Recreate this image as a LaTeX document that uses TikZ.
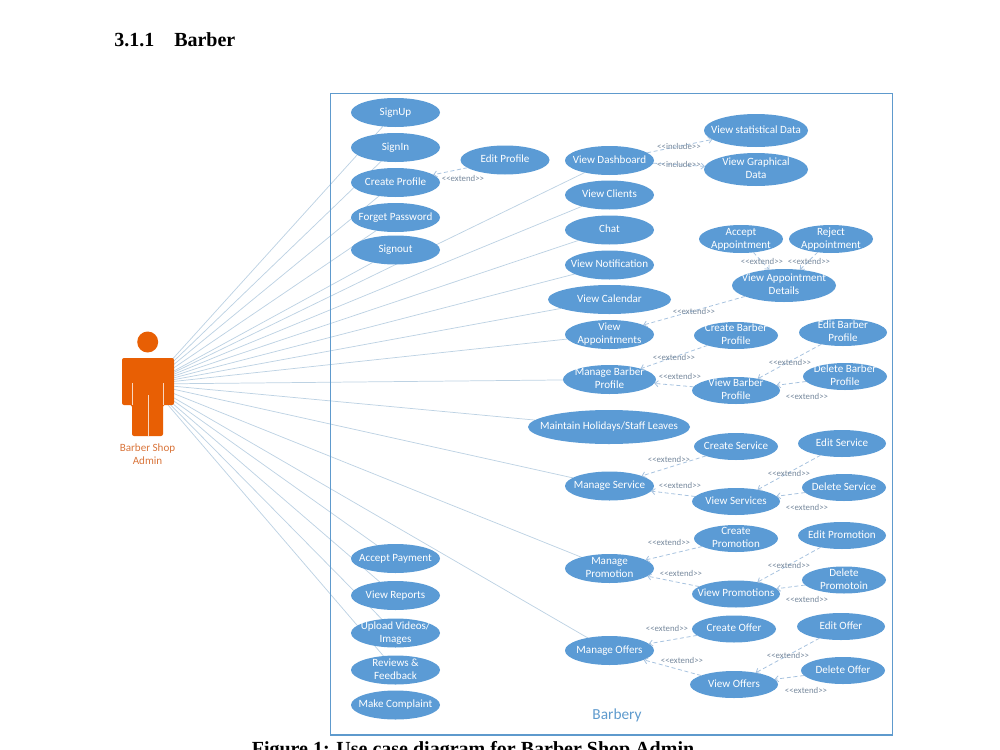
\documentclass[tikz,border=0pt]{standalone}
\usepackage{fontspec}
\setmainfont{Carlito}
\newfontfamily\headfont{Liberation Serif}
\usetikzlibrary{shapes.geometric,backgrounds,arrows.meta}
\definecolor{ucblue}{HTML}{5B9BD5}
\definecolor{framecol}{HTML}{5E9ACD}
\definecolor{fancol}{HTML}{BDD2E3}
\definecolor{dashcol}{HTML}{A8C3DF}
\definecolor{labcol}{HTML}{76889C}
\definecolor{actorcol}{HTML}{E85F04}
\definecolor{actortext}{HTML}{D9753B}
\newcommand\ut[1]{\raisebox{-3.9pt}{\makebox[0pt]{\smash{\begin{tabular}[c]{@{}c@{}}#1\end{tabular}}}}}
\newcommand\extl{<{}<extend>{}>}
\newcommand\incl{<{}<include>{}>}
\tikzset{
  uc/.style 2 args={ellipse,fill=ucblue,text=white,inner sep=0pt,outer sep=0pt,
    minimum width=#1*0.75pt,minimum height=#2*0.75pt,
    font=\fontsize{8.3}{9.75}\selectfont},
  fan/.style={draw=fancol,line width=0.55pt},
  dep/.style={draw=dashcol,line width=0.6pt,dash pattern=on 3pt off 2pt,-{Straight Barb[length=2.5pt,width=4.5pt]}},
  deplabel/.style={text=labcol,inner sep=0pt,font=\fontsize{6.6}{7}\selectfont},
  seam/.style={draw=white!75!actorcol,line width=0.5pt}
}
\begin{document}
\begin{tikzpicture}[x=0.75pt,y=-0.75pt]
\useasboundingbox (0,0) rectangle (1000,750);
% heading and caption
\node[anchor=base west,inner sep=0pt,font=\headfont\bfseries\fontsize{15}{17}\selectfont] (heading) at (114,46.5) {3.1.1\hspace{15pt}Barber};
\node[anchor=base,inner sep=0pt,font=\headfont\bfseries\fontsize{15}{17}\selectfont] (caption) at (473,755) {Figure 1: Use case diagram for Barber Shop Admin};
% system boundary
\draw[framecol,line width=1.1pt] (330.5,93.5) rectangle (892.5,735);
\node[text=framecol,inner sep=0pt,font=\fontsize{11.5}{13}\selectfont] (sysname) at (617,715) {Barbery};
% left column
\node[uc={89}{29}] (signup) at (395.5,112.5) {\ut{SignUp}};
\node[uc={89}{29}] (signin) at (395.5,147.5) {\ut{SignIn}};
\node[uc={89}{29}] (createprofile) at (395.5,182.5) {\ut{Create Profile}};
\node[uc={89}{29}] (forget) at (395.5,217.5) {\ut{Forget Password}};
\node[uc={89}{29}] (signout) at (395.5,250) {\ut{Signout}};
\node[uc={89}{29}] (editprofile) at (505,160) {\ut{Edit Profile}};
\node[uc={89}{29}] (payment) at (395.5,558.5) {\ut{Accept Payment}};
\node[uc={89}{29}] (reports) at (395.5,595.5) {\ut{View Reports}};
\node[uc={89}{29}] (upload) at (395.5,633) {\ut{Upload Videos/\\Images}};
\node[uc={89}{29}] (reviews) at (395.5,670) {\ut{Reviews \&\\Feedback}};
\node[uc={89}{29}] (complaint) at (395.5,705) {\ut{Make Complaint}};
% middle column
\node[uc={89}{29}] (dashboard) at (609.5,160.5) {\ut{View Dashboard}};
\node[uc={89}{29}] (clients) at (609.5,195) {\ut{View Clients}};
\node[uc={89}{29}] (chat) at (609.5,230) {\ut{Chat}};
\node[uc={89}{29}] (notification) at (609.5,265) {\ut{View Notification}};
\node[uc={123}{29}] (calendar) at (609.5,299.5) {\ut{View Calendar}};
\node[uc={89}{29}] (appointments) at (609.5,334.5) {\ut{View\\Appointments}};
\node[uc={93}{29}] (managebarber) at (609.5,379.5) {\ut{Manage Barber\\Profile}};
\node[uc={162}{34}] (holidays) at (609,427) {\ut{Maintain Holidays/Staff Leaves}};
\node[uc={89}{29}] (manageservice) at (609.5,486) {\ut{Manage Service}};
\node[uc={89}{29}] (managepromo) at (609.5,568.5) {\ut{Manage\\Promotion}};
\node[uc={89}{29}] (manageoffers) at (609.5,650.5) {\ut{Manage Offers}};
% dashboard children
\node[uc={104}{33}] (statdata) at (756,130.5) {\ut{View statistical Data}};
\node[uc={104}{33}] (graphdata) at (756,169.5) {\ut{View Graphical\\Data}};
% appointments
\node[uc={84}{28}] (accept) at (741,239) {\ut{Accept\\Appointment}};
\node[uc={84}{28}] (reject) at (831,239) {\ut{Reject\\Appointment}};
\node[uc={104}{33}] (details) at (784,285.5) {\ut{View Appointment\\Details}};
% barber profile
\node[uc={84}{27}] (createbarber) at (736,335.5) {\ut{Create Barber\\Profile}};
\node[uc={88}{27}] (editbarber) at (843,332.5) {\ut{Edit Barber\\Profile}};
\node[uc={84}{27}] (deletebarber) at (845,376.5) {\ut{Delete Barber\\Profile}};
\node[uc={88}{27}] (viewbarber) at (736,390.5) {\ut{View Barber\\Profile}};
% services
\node[uc={84}{27}] (createservice) at (736,446.5) {\ut{Create Service}};
\node[uc={88}{27}] (editservice) at (842,443.5) {\ut{Edit Service}};
\node[uc={84}{27}] (deleteservice) at (844,487.5) {\ut{Delete Service}};
\node[uc={88}{27}] (viewservices) at (736,501.5) {\ut{View Services}};
% promotions
\node[uc={84}{27}] (createpromo) at (736,538.5) {\ut{Create\\Promotion}};
\node[uc={88}{27}] (editpromo) at (842,535.5) {\ut{Edit Promotion}};
\node[uc={84}{27}] (deletepromo) at (844,580) {\ut{Delete\\Promotoin}};
\node[uc={88}{27}] (viewpromo) at (736,594) {\ut{View Promotions}};
% offers
\node[uc={84}{27}] (createoffer) at (734,629) {\ut{Create Offer}};
\node[uc={88}{27}] (editoffer) at (841,626.5) {\ut{Edit Offer}};
\node[uc={84}{27}] (deleteoffer) at (843,670.5) {\ut{Delete Offer}};
\node[uc={88}{27}] (viewoffers) at (734,684.5) {\ut{View Offers}};
% actor association lines
\coordinate (hub) at (150,384);
\begin{scope}[on background layer]
\foreach \t in {signup,signin,createprofile,forget,signout,dashboard,clients,chat,notification,calendar,appointments,managebarber,holidays,manageservice,managepromo,manageoffers,payment,reports,upload,reviews}
  \draw[fan] (hub) -- (\t);
\end{scope}
% actor
\fill[actorcol] (147.7,342) circle (10.5);
\fill[actorcol,rounded corners=1.5pt] (122,405) -- (122,358) -- (174,358) -- (174,405) -- (163,405) -- (163,436) -- (132,436) -- (132,405) -- cycle;
\draw[seam] (132,383) -- (132,405);
\draw[seam] (163,383) -- (163,405);
\draw[seam] (148,395) -- (148,436);
\node[text=actortext,inner sep=0pt,align=center,font=\fontsize{8.3}{9.75}\selectfont] (actorlabel) at (147.5,454) {Barber Shop\\Admin};
% dependencies
\draw[dep] (editprofile) -- (createprofile);
\draw[dep] (dashboard) -- (statdata);
\draw[dep] (dashboard) -- (graphdata);
\draw[dep] (accept) -- (details);
\draw[dep] (reject) -- (details);
\draw[dep] (details) -- (appointments);
\draw[dep] (createbarber) -- (managebarber);
\draw[dep] (viewbarber) -- (managebarber);
\draw[dep] (editbarber) -- (viewbarber);
\draw[dep] (deletebarber) -- (viewbarber);
\draw[dep] (createservice) -- (manageservice);
\draw[dep] (viewservices) -- (manageservice);
\draw[dep] (editservice) -- (viewservices);
\draw[dep] (deleteservice) -- (viewservices);
\draw[dep] (createpromo) -- (managepromo);
\draw[dep] (viewpromo) -- (managepromo);
\draw[dep] (editpromo) -- (viewpromo);
\draw[dep] (deletepromo) -- (viewpromo);
\draw[dep] (createoffer) -- (manageoffers);
\draw[dep] (viewoffers) -- (manageoffers);
\draw[dep] (editoffer) -- (viewoffers);
\draw[dep] (deleteoffer) -- (viewoffers);
% dependency labels
\node[deplabel] (l1) at (463,178) {\extl};
\node[deplabel] (l2) at (679,146) {\incl};
\node[deplabel] (l3) at (679,164) {\incl};
\node[deplabel] (l4) at (762,261) {\extl};
\node[deplabel] (l5) at (809,261) {\extl};
\node[deplabel] (l6) at (694,311) {\extl};
\node[deplabel] (l7) at (674,357) {\extl};
\node[deplabel] (l8) at (680,376) {\extl};
\node[deplabel] (l9) at (790,362) {\extl};
\node[deplabel] (l10) at (807,396) {\extl};
\node[deplabel] (l11) at (669,459) {\extl};
\node[deplabel] (l12) at (680,485) {\extl};
\node[deplabel] (l13) at (789,473) {\extl};
\node[deplabel] (l14) at (807,507) {\extl};
\node[deplabel] (l15) at (669,542) {\extl};
\node[deplabel] (l16) at (681,573) {\extl};
\node[deplabel] (l17) at (789,565) {\extl};
\node[deplabel] (l18) at (807,599) {\extl};
\node[deplabel] (l19) at (667,628) {\extl};
\node[deplabel] (l20) at (682,660) {\extl};
\node[deplabel] (l21) at (788,655) {\extl};
\node[deplabel] (l22) at (806,690) {\extl};
\end{tikzpicture}
\end{document}
